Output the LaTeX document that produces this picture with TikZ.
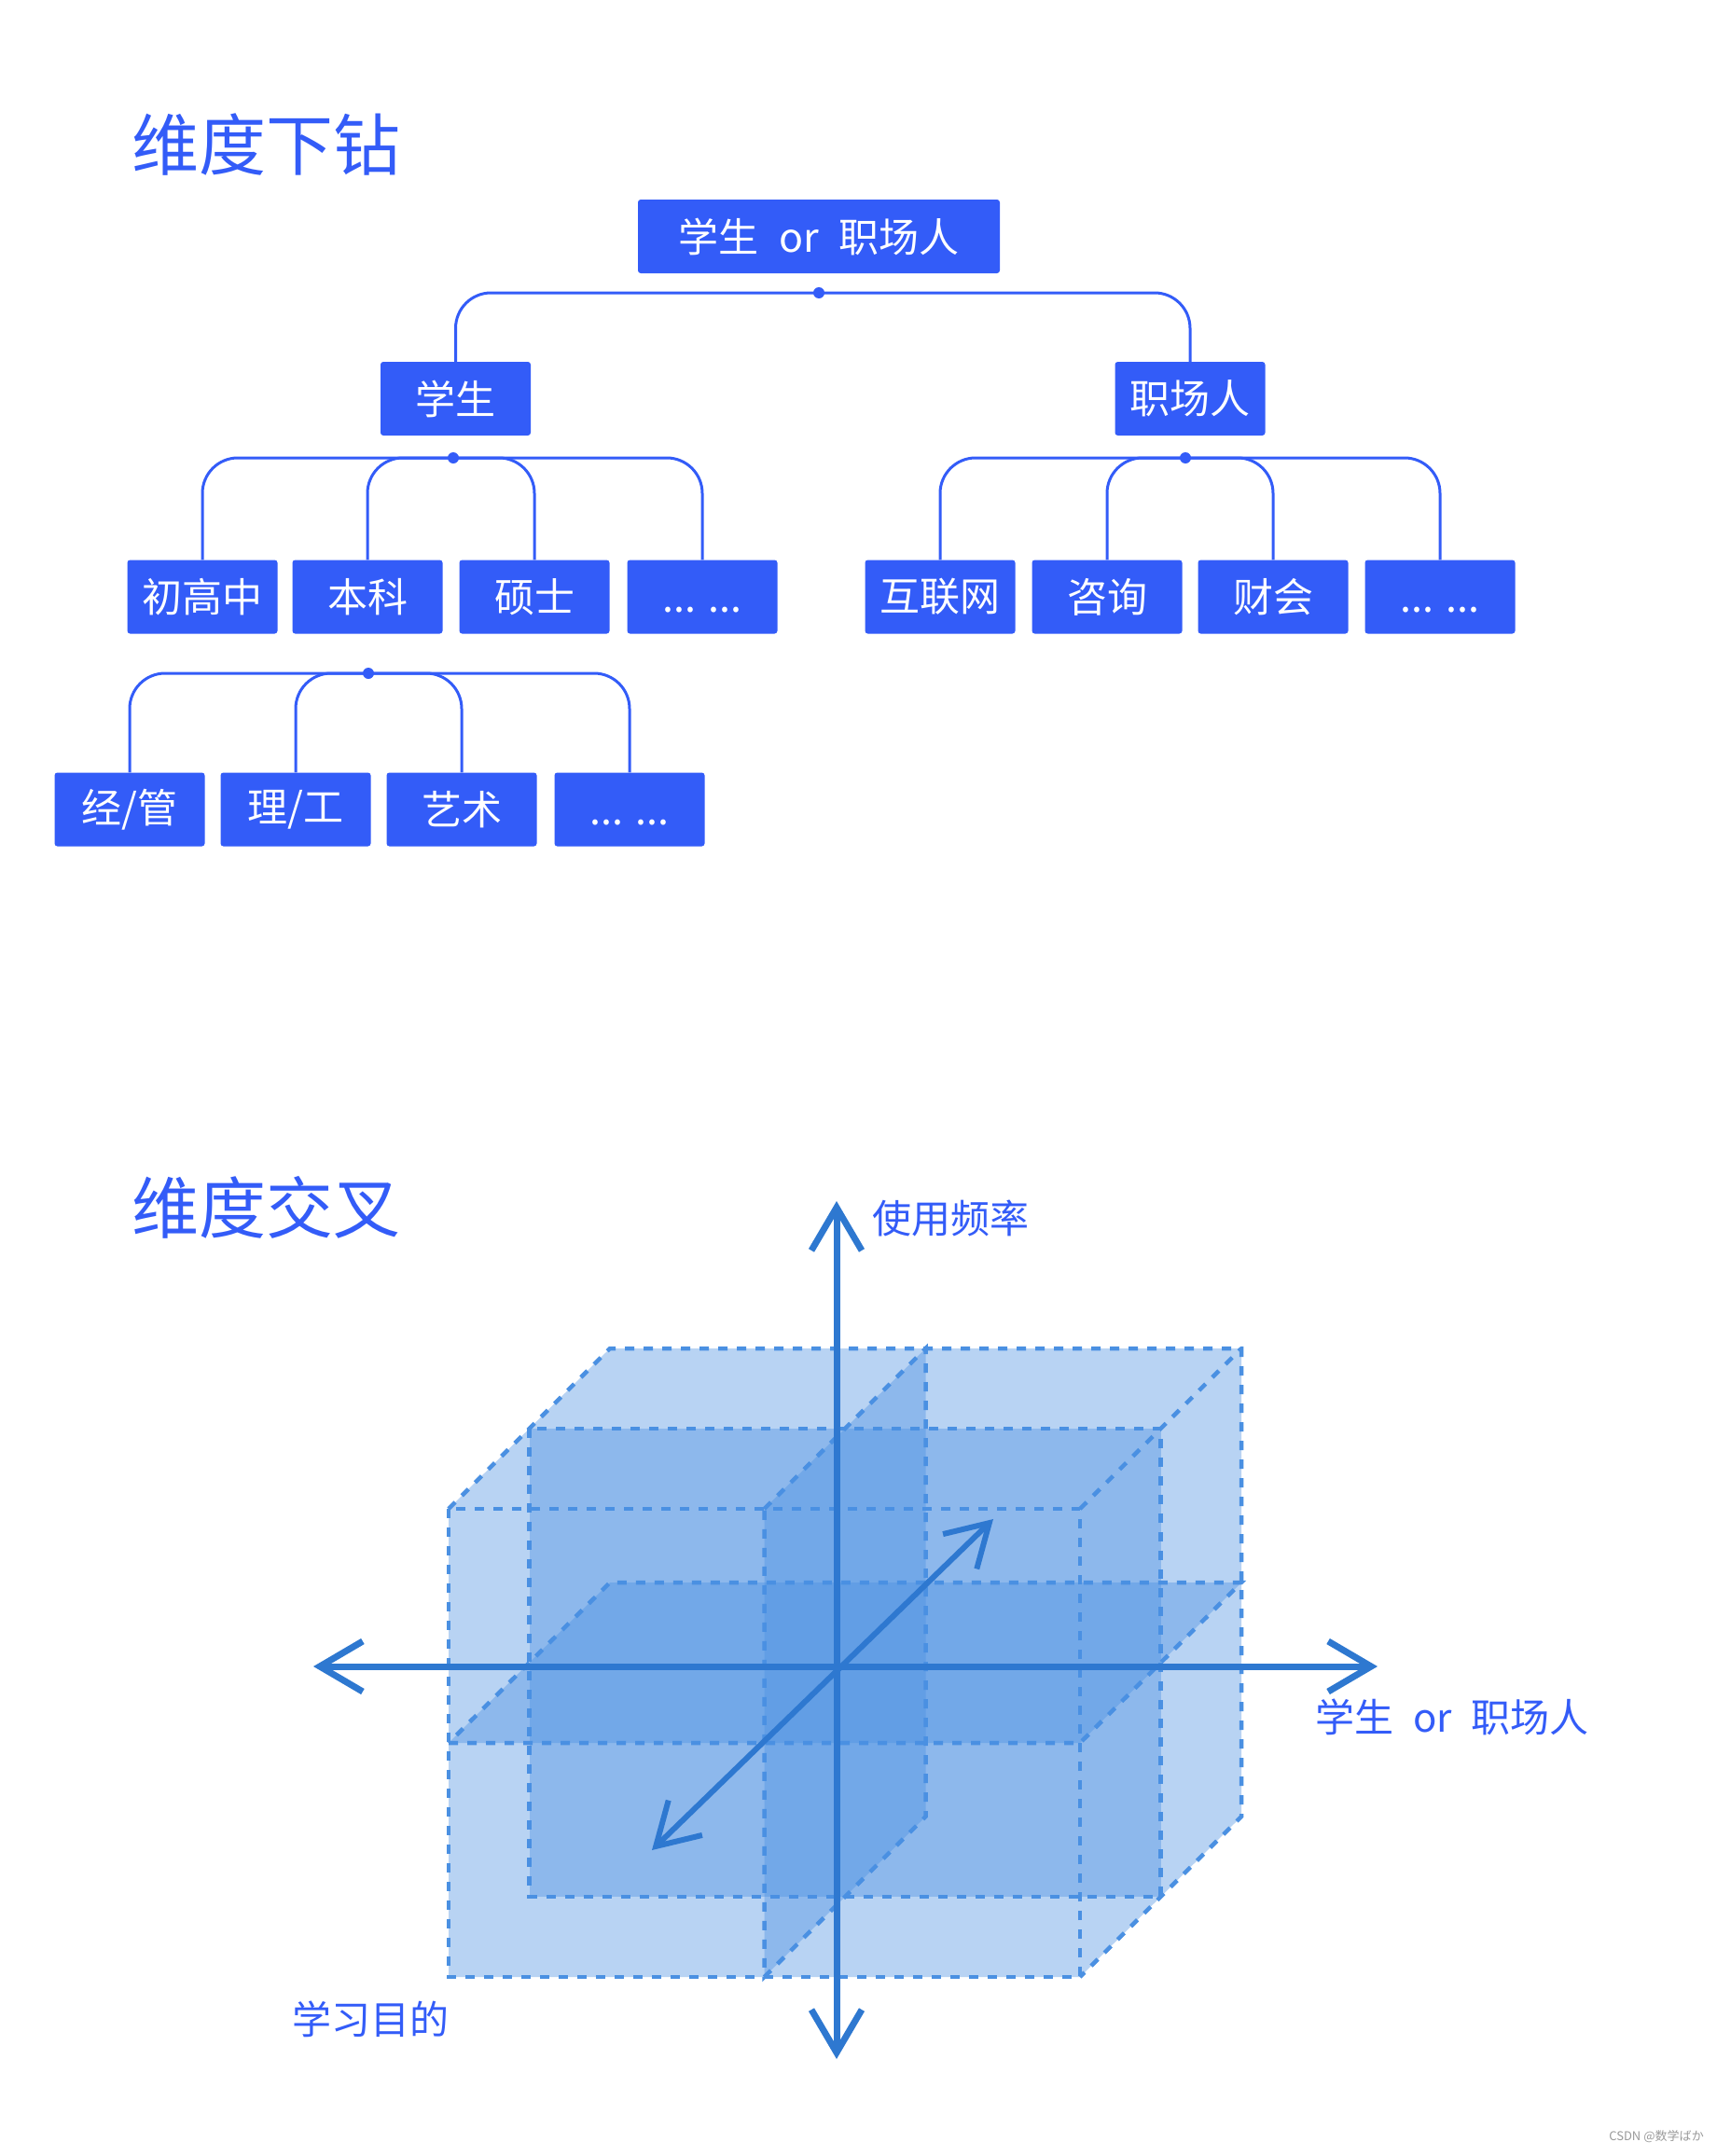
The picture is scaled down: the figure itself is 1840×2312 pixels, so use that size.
\documentclass[tikz,border=0pt]{standalone}
\usepackage{fontspec}
\setmainfont{Noto Sans CJK SC}
\usetikzlibrary{arrows.meta}
\definecolor{mainblue}{HTML}{335CF8}
\definecolor{cubeblue}{HTML}{4A90E2}
\definecolor{axisblue}{HTML}{2E78D0}
\definecolor{wmgray}{HTML}{9A9A9A}
\newcommand{\dotsgap}{\vphantom{学}...\hspace{0.3em}...}
\begin{document}
\begin{tikzpicture}[x=1pt,y=-1pt,
  box/.style={rectangle, fill=mainblue, rounded corners=3pt, minimum width=161pt, minimum height=79pt, inner sep=0pt, text=white, font=\fontsize{43}{50}\selectfont},
  hub/.style={circle, fill=mainblue, minimum size=12pt, inner sep=0pt},
  conn/.style={draw=mainblue, line width=3pt, rounded corners=38pt},
  titletext/.style={text=mainblue, font=\fontsize{72}{80}\selectfont, anchor=west, inner sep=0pt},
  axlabel/.style={text=mainblue, font=\fontsize{42}{50}\selectfont, anchor=west, inner sep=0pt},
  cubefill/.style={fill=cubeblue, fill opacity=0.39},
  cubeedge/.style={draw=cubeblue, line width=4.5pt, dash pattern=on 10pt off 10pt},
  axisline/.style={draw=axisblue, line width=7pt, arrows={Straight Barb[length=46pt,width=54pt]-Straight Barb[length=46pt,width=54pt]}},
  diagline/.style={draw=axisblue, line width=6pt, arrows={Straight Barb[length=44pt,width=52pt]-Straight Barb[length=44pt,width=52pt]}},
]
\fill[white] (0,0) rectangle (1840,2312);
\useasboundingbox (0,0) rectangle (1840,2312);

% ---------- titles ----------
\node[titletext] (t1) at (141,155) {维度下钻};
\node[titletext] (t2) at (141,1295) {维度交叉};

% ---------- tree ----------
\node[box, minimum width=388pt] (root) at (878,253.5) {学生\hspace{0.5em}or\hspace{0.5em}职场人};
\node[box] (stu) at (488.5,427.5) {学生};
\node[box] (work) at (1276,427.5) {职场人};
\node[hub] (h0) at (878,314) {};
\draw[conn] (h0.center) -| (stu.north);
\draw[conn] (h0.center) -| (work.north);

\node[box] (c1) at (217,640) {初高中};
\node[box] (c2) at (394,640) {本科};
\node[box] (c3) at (573,640) {硕士};
\node[box] (c4) at (753,640) {\dotsgap};
\node[hub] (h1) at (486,491) {};
\foreach \n in {c1,c2,c3,c4} \draw[conn] (h1.center) -| (\n.north);

\node[box] (w1) at (1008,640) {互联网};
\node[box] (w2) at (1187,640) {咨询};
\node[box] (w3) at (1365,640) {财会};
\node[box] (w4) at (1544,640) {\dotsgap};
\node[hub] (h2) at (1271,491) {};
\foreach \n in {w1,w2,w3,w4} \draw[conn] (h2.center) -| (\n.north);

\node[box] (m1) at (139,868) {经/管};
\node[box] (m2) at (317,868) {理/工};
\node[box] (m3) at (495,868) {艺术};
\node[box] (m4) at (675,868) {\dotsgap};
\node[hub] (h3) at (395,722) {};
\foreach \n in {m1,m2,m3,m4} \draw[conn] (h3.center) -| (\n.north);

% ---------- cube ----------
\coordinate (FTL) at (481,1618);
\coordinate (FTR) at (1158,1618);
\coordinate (FBR) at (1158,2120);
\coordinate (FBL) at (481,2120);
\coordinate (BTL) at (654,1446);
\coordinate (BTR) at (1331,1446);
\coordinate (BBR) at (1331,1948);

\fill[cubefill] (FTL) -- (BTL) -- (BTR) -- (BBR) -- (FBR) -- (FBL) -- cycle;
\fill[cubefill] (567.5,1532) rectangle (1244.5,2034);
\fill[cubefill] (481,1869) -- (1158,1869) -- (1331,1697) -- (654,1697) -- cycle;
\fill[cubefill] (819.5,1618) -- (992.5,1446) -- (992.5,1948) -- (819.5,2120) -- cycle;

\draw[cubeedge] (FTL) rectangle (FBR);
\draw[cubeedge] (FTL) -- (BTL) -- (BTR) -- (BBR) -- (FBR);
\draw[cubeedge] (FTR) -- (BTR);
\draw[cubeedge] (567.5,1532) rectangle (1244.5,2034);
\draw[cubeedge] (481,1869) -- (1158,1869) -- (1331,1697) -- (654,1697) -- cycle;
\draw[cubeedge] (819.5,1618) -- (992.5,1446) -- (992.5,1948) -- (819.5,2120) -- cycle;

% ---------- axes ----------
\coordinate (axL) at (336,1787);
\coordinate (axR) at (1477,1787);
\coordinate (axT) at (897,1288);
\coordinate (axB) at (897,2208);
\coordinate (dgA) at (699,1984);
\coordinate (dgB) at (1065,1629);
\draw[axisline] (axL) -- (axR);
\draw[axisline] (axB) -- (axT);
\draw[diagline] (dgA) -- (dgB);

\node[axlabel] (ly) at (935,1306) {使用频率};
\node[axlabel] (lx) at (1410,1841) {学生\hspace{0.5em}or\hspace{0.5em}职场人};
\node[axlabel] (lz) at (313,2165) {学习目的};

\node[text=wmgray, font=\fontsize{13}{15}\selectfont, anchor=east, inner sep=0pt] (wm) at (1827,2291) {CSDN @数学ばか};
\end{tikzpicture}
\end{document}
